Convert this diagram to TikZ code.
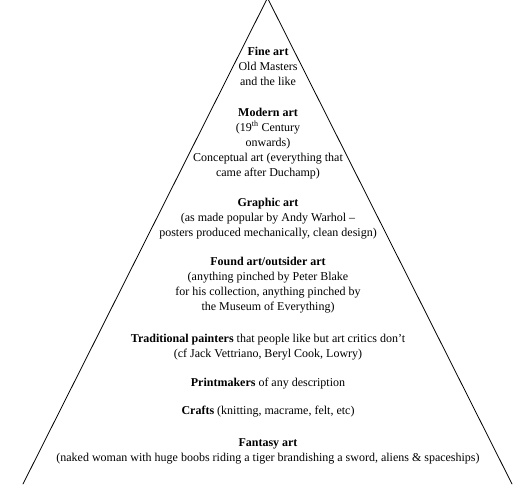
\documentclass[tikz,border=0pt]{standalone}
\usepackage{fontspec}
\setmainfont{Liberation Serif}
\begin{document}
\begin{tikzpicture}[x=1pt,y=-1pt,
  lbl/.style={align=center, font=\fontsize{12}{15}\selectfont, inner sep=0pt, anchor=base},
  side/.style={line width=0.8pt, line cap=round}]
\useasboundingbox (0,0) rectangle (524,490);
\coordinate (apex) at (267.5,-2);
\coordinate (bl) at (23,484);
\coordinate (br) at (512,484);
\draw[side] (bl) -- (apex) -- (br);
% y = baseline of the last line of each block
\node[lbl] (fine) at (268,85) {\textbf{Fine art}\\Old Masters\\and the like};
\node[lbl] (modern) at (268,176) {\textbf{Modern art}\\(19\textsuperscript{th} Century\\onwards)\\Conceptual art (everything that\\came after Duchamp)};
\node[lbl] (graphic) at (268,236) {\textbf{Graphic art}\\(as made popular by Andy Warhol --\\posters produced mechanically, clean design)};
\node[lbl] (found) at (268,310) {\textbf{Found art/outsider art}\\(anything pinched by Peter Blake\\for his collection, anything pinched by\\the Museum of Everything)};
\node[lbl] (trad) at (268,357) {\textbf{Traditional painters} that people like but art critics don’t\\(cf Jack Vettriano, Beryl Cook, Lowry)};
\node[lbl] (print) at (268,386) {\textbf{Printmakers} of any description};
\node[lbl] (crafts) at (268,414) {\textbf{Crafts} (knitting, macrame, felt, etc)};
\node[lbl] (fantasy) at (268,461) {\textbf{Fantasy art}\\(naked woman with huge boobs riding a tiger brandishing a sword, aliens \& spaceships)};
\end{tikzpicture}
\end{document}
